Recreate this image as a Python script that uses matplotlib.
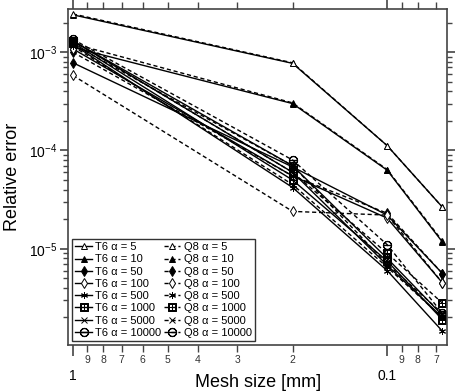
import matplotlib
matplotlib.use("Agg")
import matplotlib.pyplot as plt
from matplotlib.ticker import LogLocator, FixedLocator, FixedFormatter, NullFormatter

plt.rcParams["font.family"] = ["Liberation Sans", "DejaVu Sans"]
plt.rcParams["mathtext.fontset"] = "custom"
plt.rcParams["mathtext.rm"] = "Liberation Sans"

# mesh sizes [mm]
taille = [1.0, 0.2, 0.1, 0.0667]
alphas = [5, 10, 50, 100, 500, 1000, 5000, 10000]

# T6 elements (solid)
t6_a5 = [2.4e-3, 7.7e-4, 1.12e-4, 2.65e-5]
t6_a10 = [1.12e-3, 3.0e-4, 6.3e-5, 1.17e-5]
t6_a50 = [7.8e-4, 6.8e-5, 2.2e-5, 5.6e-6]
t6_a100 = [1.08e-3, 5.5e-5, 2.05e-5, 4.5e-6]
t6_a500 = [1.2e-3, 4.2e-5, 6.0e-6, 1.45e-6]
t6_a1000 = [1.25e-3, 5.0e-5, 7.5e-6, 1.9e-6]
t6_a5000 = [1.3e-3, 6.0e-5, 6.8e-6, 2.0e-6]
t6_a10000 = [1.3e-3, 7.0e-5, 8.0e-6, 2.1e-6]

# Q8 elements (dashed)
q8_a5 = [2.45e-3, 7.8e-4, 1.12e-4, 2.65e-5]
q8_a10 = [1.22e-3, 3.05e-4, 6.4e-5, 1.2e-5]
q8_a50 = [1.0e-3, 5.5e-5, 2.3e-5, 5.6e-6]
q8_a100 = [5.8e-4, 2.4e-5, 2.2e-5, 4.5e-6]
q8_a500 = [1.15e-3, 4.5e-5, 6.5e-6, 2.0e-6]
q8_a1000 = [1.3e-3, 6.0e-5, 9.0e-6, 2.8e-6]
q8_a5000 = [1.2e-3, 7.0e-5, 7.0e-6, 2.2e-6]
q8_a10000 = [1.35e-3, 8.0e-5, 1.1e-5, 2.2e-6]

t6 = [t6_a5, t6_a10, t6_a50, t6_a100, t6_a500, t6_a1000, t6_a5000, t6_a10000]
q8 = [q8_a5, q8_a10, q8_a50, q8_a100, q8_a500, q8_a1000, q8_a5000, q8_a10000]

marqueurs = [("^", "white"), ("^", "black"), ("d", "black"), ("d", "white"),
             ((6, 2, 0), "black"), (r"$\boxplus$", "black"), ("x", "black"),
             (r"$\ominus$", "black")]

fig = plt.figure(figsize=(4.74, 3.92), dpi=100)
ax = fig.add_axes([0.1435, 0.12, 0.80, 0.857])

h_t6 = []
h_q8 = []
for k in range(len(alphas)):
    m, fc = marqueurs[k]
    ms = 6 if isinstance(m, str) and m.startswith("$") else 5
    l1, = ax.plot(taille, t6[k], "-", color="black", lw=1, marker=m, ms=ms,
                  mfc=fc, mec="black", mew=0.7, label="T6 α = %d" % alphas[k])
    l2, = ax.plot(taille, q8[k], "--", color="black", lw=1, marker=m, ms=ms,
                  mfc=fc, mec="black", mew=0.7, dashes=(3, 2),
                  label="Q8 α = %d" % alphas[k])
    h_t6.append(l1)
    h_q8.append(l2)

ax.set_xscale("log")
ax.set_yscale("log")
ax.set_xlim(1.037, 0.0644)
ax.set_ylim(1.05e-6, 2.75e-3)

# x ticks: 1 and 0.1 as major labels, digits for minor ones
ax.xaxis.set_major_locator(FixedLocator([1.0, 0.1]))
ax.xaxis.set_major_formatter(FixedFormatter(["1", "0.1"]))
mineurs = [0.9, 0.8, 0.7, 0.6, 0.5, 0.4, 0.3, 0.2, 0.09, 0.08, 0.07]
ax.xaxis.set_minor_locator(FixedLocator(mineurs))
ax.xaxis.set_minor_formatter(FixedFormatter(["9", "8", "7", "6", "5", "4", "3", "2", "9", "8", "7"]))

ax.yaxis.set_major_locator(LogLocator(base=10))
ax.yaxis.set_minor_locator(LogLocator(base=10, subs=range(2, 10)))
ax.yaxis.set_minor_formatter(NullFormatter())

ax.tick_params(which="both", direction="out", top=True, right=True, color="#444444")
ax.tick_params(axis="x", which="major", length=8, width=1.2, labelsize=10, pad=9)
ax.tick_params(axis="x", which="minor", length=5, width=1, labelsize=7.5, pad=2,
               labelcolor="#333333")
ax.tick_params(axis="y", which="major", length=6, width=1.2, labelsize=10, pad=2)
ax.tick_params(axis="y", which="minor", length=3.5, width=1)
ax.tick_params(axis="x", which="both", labeltop=False)
for sp in ax.spines.values():
    sp.set_linewidth(1.2)
    sp.set_color("#444444")

ax.set_xlabel("Mesh size [mm]", fontsize=13)
ax.xaxis.set_label_coords(0.5, -0.087)
ax.set_ylabel("Relative error", fontsize=13)
ax.yaxis.set_label_coords(-0.125, 0.5)

leg = ax.legend(h_t6 + h_q8, [h.get_label() for h in h_t6 + h_q8], ncol=2,
                loc="lower left", fontsize=8, frameon=True, fancybox=False,
                edgecolor="black", handlelength=1.5, handletextpad=0.3,
                columnspacing=0.2, labelspacing=0.2, borderpad=0.3,
                borderaxespad=0.35)
leg.get_frame().set_linewidth(1.0)

fig.savefig("out.png", dpi=100)
